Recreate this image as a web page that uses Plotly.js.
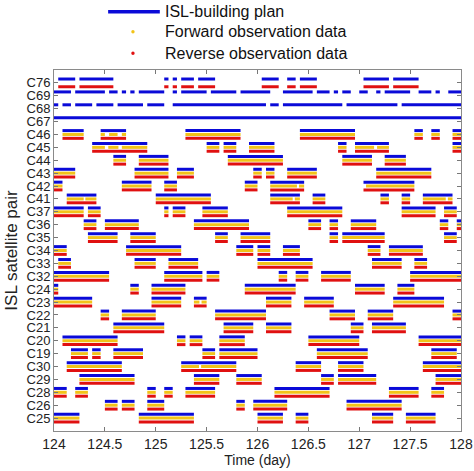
<!DOCTYPE html>
<html>
<head>
<meta charset="utf-8">
<script src="https://cdn.plot.ly/plotly-3.0.1.min.js"></script>
<style>html,body{margin:0;padding:0;background:#fff}#chart{width:474px;height:471px}</style>
</head>
<body>
<div id="chart"></div>
<script>
// Satellite pairs, top to bottom
const pairLabels = ["C76","C69","C68","C67","C46","C45","C44","C43","C42","C41","C37","C36","C35","C34","C33","C32","C24","C23","C22","C21","C20","C19","C30","C29","C28","C26","C25"];
const startDay = 124;
const xTickVals = [124,124.5,125,125.5,126,126.5,127,127.5,128];
const xTickText = ["124","124.5","125","125.5","126","126.5","127","127.5","128"];
const seriesNames = ["ISL-building plan","Forward observation data","Reverse observation data"];

// ISL-building plan: [start hour, end hour] since day 124.0, one list per pair (same order as pairLabels)
const planHours = [
  [[1,5],[6,14],[26,27],[28,29],[30,33],[34,38],[49,53],[55,57],[58,62],[73,79],[80,86]],
  [[0,4],[5,12],[13,15],[16,17],[18,19],[20,26],[28,29],[30,36],[37,43],[44,51],[54,61],[62,65],[66,67],[68,70],[72,74],[76,77],[78,84],[86,89],[90,91],[93,96]],
  [[0,1],[2,4],[5,9],[10,14],[15,21],[22,26],[28,50],[51,53],[54,68],[69,81],[82,96]],
  [[0,96]],
  [[2,7],[11,17],[31,44],[58,71],[85,87],[89,91],[94,96]],
  [[9,22],[36,39],[40,43],[46,52],[67,69],[71,79],[94,96]],
  [[14,17],[20,27],[41,54],[68,75],[78,83]],
  [[0,5],[19,27],[29,33],[47,49],[50,52],[55,62],[76,89]],
  [[0,2],[16,23],[26,29],[45,48],[51,59],[73,85]],
  [[3,10],[24,37],[51,58],[61,64],[77,79],[82,84],[87,94]],
  [[0,7],[8,11],[26,27],[28,31],[35,41],[55,68],[82,90],[92,95]],
  [[7,10],[12,20],[33,46],[60,63],[65,67],[70,76],[91,93],[95,96]],
  [[8,15],[18,24],[38,41],[44,51],[65,67],[68,78],[92,95]],
  [[0,3],[17,30],[43,47],[48,51],[54,58],[74,77],[79,87]],
  [[1,4],[19,24],[27,34],[48,61],[75,82],[85,88]],
  [[0,13],[26,35],[36,39],[53,55],[57,60],[63,70],[84,96]],
  [[0,1],[18,20],[23,31],[45,57],[71,78],[81,85]],
  [[0,9],[23,30],[33,36],[50,56],[59,66],[80,92]],
  [[11,13],[16,24],[38,50],[65,71],[74,80],[94,96]],
  [[14,26],[40,47],[50,56],[70,73],[75,83]],
  [[2,15],[29,31],[32,35],[39,45],[60,72],[86,96]],
  [[4,8],[9,11],[14,21],[35,38],[39,48],[62,74],[89,95]],
  [[3,16],[30,43],[57,63],[67,73],[87,96]],
  [[6,19],[33,39],[43,49],[63,66],[67,76],[90,96]],
  [[0,3],[5,8],[22,24],[26,28],[31,38],[52,65],[79,86],[89,92]],
  [[12,15],[16,19],[22,26],[43,45],[47,55],[69,82]],
  [[0,6],[20,33],[48,54],[57,60],[75,80],[83,90]]
];

// Forward observation data (null = identical to the plan for that pair)
const forwardHours = [
  [], [], [], [],
  [[2,7],[11,12],[13,15],[16,17],[31,44],[58,71],[85,87],[89,91],[94,96]],
  [[9,12],[12.8,15.2],[16,22],[36,39],[40,43],[46,52],[67,69],[71,75.5],[76.2,79],[94,96]],
  null, null,
  [[0,2],[16,23],[26,29],[45,48],[51,57.3],[57.8,59],[73.6,85]],
  [[3,7],[7.4,10],[24,37],[51,56.3],[56.8,58],[61,64],[77,79],[82,84],[87,92.4],[92.9,94]],
  null, null, null, null, null, null, null,
  [[0,9],[23,30],[33,34.3],[34.8,36],[50,56],[59,66],[80,92]],
  null, null, null, null,
  [[3,16],[30,34.2],[34.7,43],[57,63],[67,73],[87,96]],
  null, null, null, null
];

// Reverse observation data (null = identical to the plan for that pair)
const reverseHours = [
  null, [], [], [],
  null, null, null, null, null, null, null, null, null, null, null, null,
  null, null, null, null, null, null, null, null, null, null, null
];

function buildXY(list, offset) {
  const x = [], y = [];
  list.forEach((segs, i) => {
    const s = segs === null ? planHours[i] : segs;
    const pos = pairLabels.length - i;
    s.forEach(([a, b]) => {
      x.push(startDay + a / 24, startDay + b / 24, null);
      y.push(pos + offset, pos + offset, null);
    });
  });
  return {x, y};
}

const BLUE = '#0a0ad8', YELLOW = '#f2c318', RED = '#e01010';
const p = buildXY(planHours, 0.3);
const f = buildXY(forwardHours, 0);
const r = buildXY(reverseHours, -0.3);

const traces = [
  {x: p.x, y: p.y, mode: 'lines', line: {color: BLUE, width: 3}, name: seriesNames[0], hoverinfo: 'skip'},
  {x: f.x, y: f.y, mode: 'lines', line: {color: YELLOW, width: 3}, name: seriesNames[1], hoverinfo: 'skip'},
  {x: r.x, y: r.y, mode: 'lines', line: {color: RED, width: 3}, name: seriesNames[2], hoverinfo: 'skip'}
];

const yVals = pairLabels.map((_, i) => pairLabels.length - i);

// Legend drawn above the plot (paper coordinates)
const legTextX = 0.268, legSymX = 0.194;
const legRowsY = [1.1615, 1.1061, 1.0463];
const dx = 0.0042, dy = 0.0047;
const shapes = [
  {type: 'line', xref: 'paper', yref: 'paper', x0: 0.133, x1: 0.260, y0: legRowsY[0], y1: legRowsY[0], line: {color: BLUE, width: 3.5}},
  {type: 'circle', xref: 'paper', yref: 'paper', x0: legSymX - dx, x1: legSymX + dx, y0: legRowsY[1] - dy, y1: legRowsY[1] + dy, fillcolor: YELLOW, line: {width: 0}},
  {type: 'circle', xref: 'paper', yref: 'paper', x0: legSymX - dx, x1: legSymX + dx, y0: legRowsY[2] - dy, y1: legRowsY[2] + dy, fillcolor: RED, line: {width: 0}}
];
const annotations = seriesNames.map((t, i) => ({
  xref: 'paper', yref: 'paper', x: legTextX, y: legRowsY[i], xanchor: 'left', yanchor: 'middle',
  text: t, showarrow: false, font: {size: 16, color: '#111'}
}));

const layout = {
  width: 474, height: 471,
  margin: {l: 54, r: 13, t: 70, b: 40},
  paper_bgcolor: '#fff', plot_bgcolor: '#fff',
  font: {family: 'Liberation Sans, Arial, sans-serif', size: 14, color: '#222'},
  showlegend: false,
  shapes: shapes,
  annotations: annotations,
  xaxis: {
    range: [124, 128], tickvals: xTickVals, ticktext: xTickText,
    ticks: 'inside', ticklen: 4, tickcolor: '#777', mirror: 'allticks',
    showline: true, linecolor: '#8a8a8a', linewidth: 1,
    showgrid: false, zeroline: false,
    tickfont: {size: 14},
    title: {text: 'Time (day)', font: {size: 14}, standoff: 4}
  },
  yaxis: {
    range: [0, 28], tickvals: yVals, ticktext: pairLabels,
    ticks: 'inside', ticklen: 4, tickcolor: '#777', mirror: 'allticks',
    showline: true, linecolor: '#8a8a8a', linewidth: 1,
    showgrid: false, zeroline: false,
    tickfont: {size: 13},
    title: {text: 'ISL satellite pair', font: {size: 17}, standoff: 4}
  }
};

Plotly.newPlot('chart', traces, layout, {displayModeBar: false, staticPlot: true});
</script>
</body>
</html>
